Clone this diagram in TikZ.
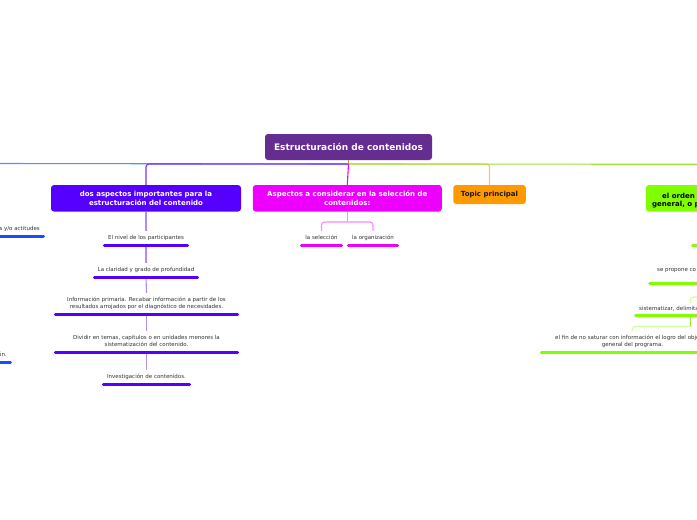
\documentclass[tikz,border=0pt]{standalone}
\usepackage{fontspec}
\setmainfont{DejaVu Sans}
\usetikzlibrary{calc}
\definecolor{rootc}{HTML}{662D91}
\definecolor{dosc}{HTML}{5500FF}
\definecolor{dosl}{HTML}{B08CFF}
\definecolor{aspc}{HTML}{EE00FF}
\definecolor{aspl}{HTML}{F58CFF}
\definecolor{topc}{HTML}{FF9900}
\definecolor{topl}{HTML}{FFC266}
\definecolor{grc}{HTML}{80FF00}
\definecolor{grl}{HTML}{CCFF99}
\definecolor{grline}{HTML}{99E633}
\definecolor{blc}{HTML}{1A4CFF}
\definecolor{bll}{HTML}{5C8DFF}
\definecolor{stubc}{HTML}{9AAA33}
\definecolor{txt}{HTML}{333333}
\begin{document}
\begin{tikzpicture}[x=1pt,y=-1pt,
  rootbox/.style={fill=rootc, rounded corners=3pt, text=white,
    font=\fontsize{9}{11}\selectfont\bfseries,
    minimum width=167pt, minimum height=26pt, inner sep=0pt},
  mainbox/.style={fill=#1, rounded corners=3pt,
    font=\fontsize{7}{9}\selectfont\bfseries, inner sep=0pt, align=center},
  item/.style={font=\fontsize{5.5}{7}\selectfont, text=txt, align=center,
    inner xsep=0pt, inner ysep=4pt, text depth=1.3pt, anchor=south},
  parttext/.style={font=\fontsize{5.5}{7}\selectfont, text=txt, inner sep=0pt, anchor=west},
  ul/.style={line width=3pt, draw=#1, line cap=round, shorten <=1.5pt, shorten >=1.5pt},
  conn/.style={line width=1.1pt, draw=#1, rounded corners=3pt},
]
\useasboundingbox (0,0) rectangle (697,520);
\fill[white] (0,0) rectangle (697,520);
\clip (0,0) rectangle (697,520);

% main nodes
\node[rootbox] (root) at (348.5,147) {Estructuración de contenidos};
\node[mainbox=dosc, text=white, minimum width=190pt, minimum height=26.5pt] (dos) at (146,198.3)
  {dos aspectos importantes para la\\estructuración del contenido};
\node[mainbox=aspc, text=white, minimum width=189pt, minimum height=26.5pt] (asp) at (347.3,198.3)
  {Aspectos a considerar en la selección de\\contenidos:};
\node[mainbox=topc, text=black!90, minimum width=72.5pt, minimum height=19pt] (topic) at (489.5,194.5)
  {Topic principal};
\node[fill=grc, rounded corners=3pt, minimum width=200pt, minimum height=26.5pt, inner sep=0pt,
  anchor=west] (gbox) at (645.7,198.3) {};
\node[font=\fontsize{7}{9}\selectfont\bfseries, inner sep=0pt, anchor=west] (gt1) at (662,195.5) {el orden};
\node[font=\fontsize{7}{9}\selectfont\bfseries, inner sep=0pt, anchor=west] (gt2) at (652,204.8) {general, o p};

% junction and trunk lines
\coordinate (j) at (348.5,164);
\coordinate (leftend) at (-10,163.5);
\coordinate (rightend) at (720,164.3);
\draw[conn=bll] (j) -- (leftend);
\draw[conn=topl] (j) -| (topic.north);
\draw[conn=grline] (j) -- (rightend);
\draw[conn=dosc!80] (j) -| (dos.north);
\draw[conn=aspc] (j) -- (asp.north);
\draw[line width=1.1pt, stubc] (root.south) -- (j);

% dos aspectos children
\node[item, minimum width=86pt] (i1) at (146,245) {El nivel de los participantes};
\node[item, minimum width=106pt] (i2) at (146,277) {La claridad y grado de profundidad};
\node[item, minimum width=185pt] (i3) at (146.5,314)
  {Información primaria. Recabar información a partir de los\\resultados arrojados por el diagnóstico de necesidades.};
\node[item, minimum width=185pt] (i4) at (146.5,352)
  {Dividir en temas, capítulos o en unidades menores la\\sistematización del contenido.};
\node[item, minimum width=89pt] (i5) at (146.5,384) {Investigación de contenidos.};
\draw[conn=dosl] (dos.south) -- (i1.north);
\draw[conn=dosl] (i1.south) -- (i2.north);
\draw[conn=dosl] (i2.south) -- (i3.north);
\draw[conn=dosl] (i3.south) -- (i4.north);
\draw[conn=dosl] (i4.south) -- (i5.north);
\foreach \n in {i1,i2,i3,i4,i5} \draw[ul=dosc] (\n.south west) -- (\n.south east);

% aspectos children
\node[item, minimum width=43pt] (s1) at (321.5,245) {la selección};
\node[item, minimum width=52pt] (s2) at (373,245) {la organización};
\coordinate (j2) at (347.3,222);
\draw[conn=aspl] (asp.south) -- (j2);
\draw[conn=aspl] (j2) -| (s1.north);
\draw[conn=aspl] (j2) -| (s2.north);
\foreach \n in {s1,s2} \draw[ul=aspc] (\n.south west) -- (\n.south east);

% left (blue) partial children
\node[item, inner xsep=5pt, anchor=south east] (b1) at (45,236) {s y/o actitudes};
\node[item, inner xsep=5pt, anchor=south east] (b2) at (12,362) {ón.};
\draw[ul=blc] (-10,236) -- (b1.south east);
\draw[ul=blc] (-10,362) -- (b2.south east);

% right (green) partial children
\draw[ul=grc] (691,245) -- (720,245);
\node[parttext] (g2) at (657,270.3) {se propone co};
\draw[ul=grc] (648,283) -- (720,283);
\coordinate (gin) at (720,297);
\coordinate (g3n) at (690.5,303);
\draw[conn=grl] (gin) -| (g3n);
\node[parttext] (g3) at (639,308.3) {sistematizar, delimita};
\coordinate (g3s) at (690.5,315);
\coordinate (j3) at (690.5,326.5);
\node[item, minimum width=185pt] (g4) at (632.5,352)
  {el fin de no saturar con información el logro del objetivo\\general del programa.};
\draw[line width=1.1pt, grline] (g3s) -- (j3);
\draw[conn=grl] (j3) -| (g4.north);
\draw[ul=grc] (634,315) -- (720,315);
\draw[ul=grc] (g4.south west) -- (720,352);
\end{tikzpicture}
\end{document}
